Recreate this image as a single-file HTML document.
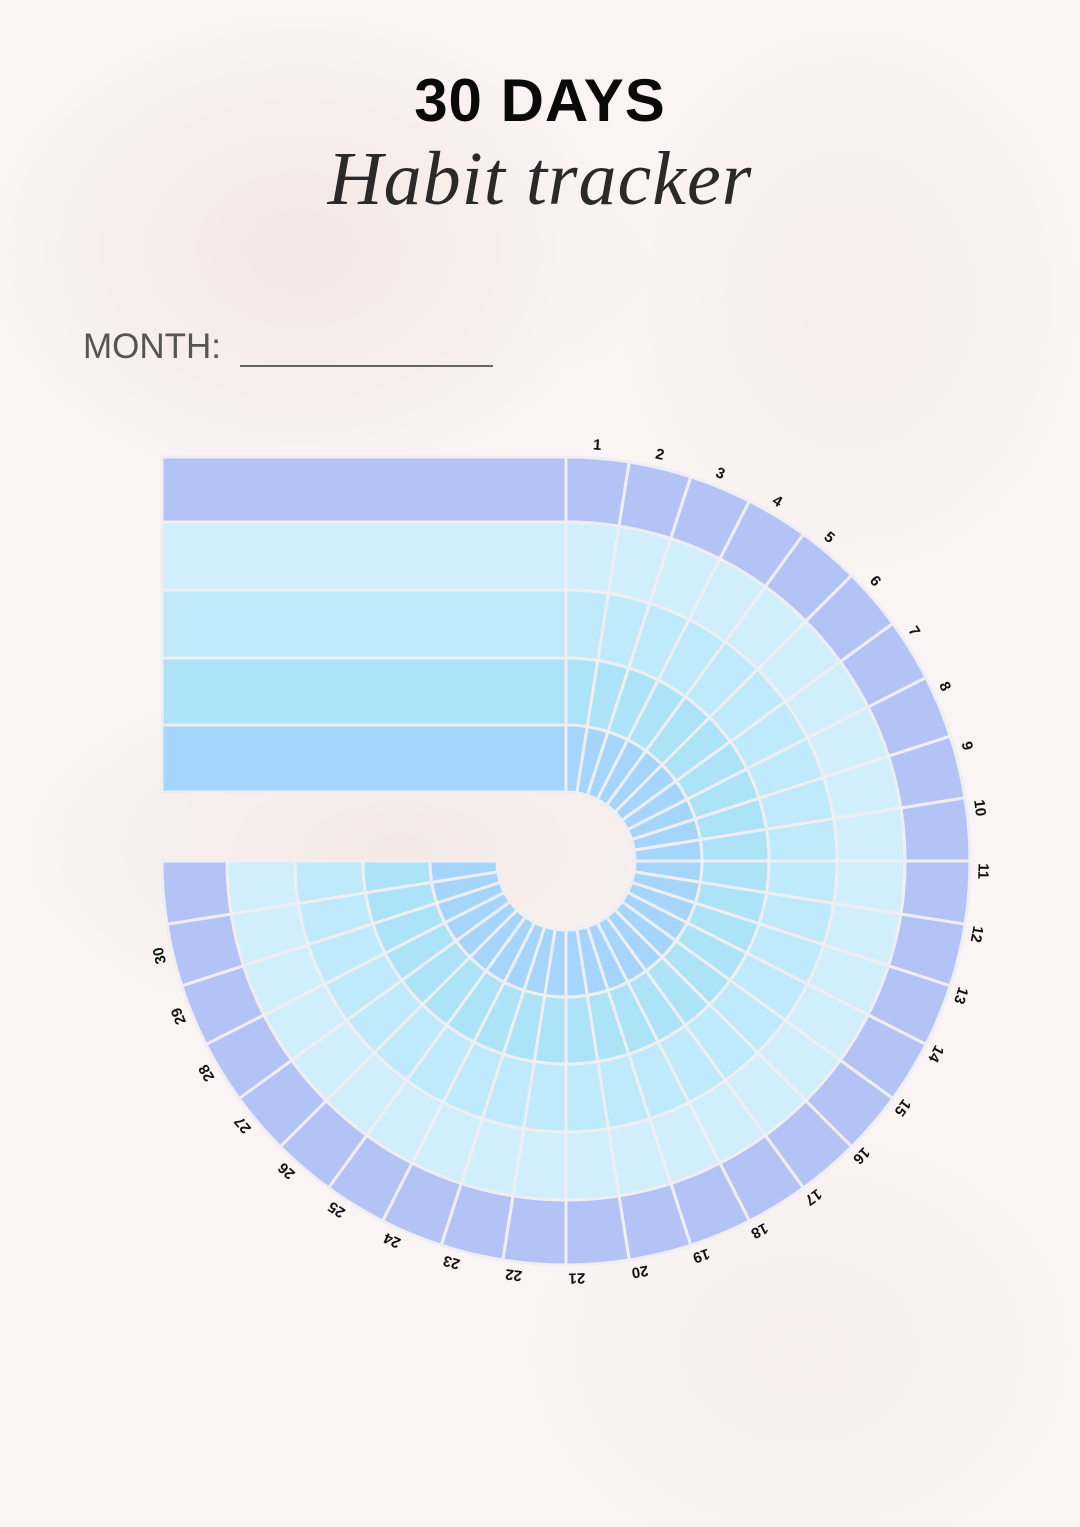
<!DOCTYPE html>
<html><head><meta charset="utf-8">
<style>
html,body{margin:0;padding:0;}
body{width:1080px;height:1527px;overflow:hidden;position:relative;font-family:"Liberation Sans",sans-serif;
background:
radial-gradient(ellipse 500px 380px at 300px 250px,rgba(240,222,218,.6),transparent 70%),
radial-gradient(ellipse 420px 500px at 850px 300px,rgba(244,230,228,.5),transparent 70%),
radial-gradient(ellipse 600px 300px at 400px 850px,rgba(240,224,220,.6),transparent 70%),
radial-gradient(ellipse 500px 400px at 800px 1350px,rgba(244,232,230,.5),transparent 70%),
#faf5f4;}
#title{position:absolute;left:0;width:1080px;top:66px;text-align:center;font-weight:bold;font-size:60px;color:#0a0a0a;letter-spacing:1px;}
#sub{position:absolute;left:0;width:1080px;top:136px;text-align:center;font-family:"Liberation Serif",serif;font-style:italic;font-size:76px;color:#2a2a2a;letter-spacing:1px;}
#month{position:absolute;left:83px;top:327px;font-size:35px;color:#555;}
#line{position:absolute;left:240px;top:365px;width:253px;height:2px;background:#666;}
svg{position:absolute;left:0;top:0;}
</style></head><body>
<div id="title">30 DAYS</div>
<div id="sub">Habit tracker</div>
<div id="month">MONTH:</div>
<div id="line"></div>
<svg id="chart" width="1080" height="1527"></svg>
<script>
const days=[1,2,3,4,5,6,7,8,9,10,11,12,13,14,15,16,17,18,19,20,21,22,23,24,25,26,27,28,29,30];
const habitRows=["header","habit-1","habit-2","habit-3","habit-4"];
const ringColors=["#b4c3f6","#d0eefc","#bfeafb","#ade3f7","#a6d5fc"];
const radii=[404,339,271,203,136,69];
const cx=566,cy=861,leftX=162,spanDeg=270;
const labelStart=4.3,labelStep=8.71;
const NS="http://www.w3.org/2000/svg";
const svg=document.getElementById('chart');
function ang(i){return i*spanDeg/days.length;}
function pt(r,a){const t=a*Math.PI/180;return [cx+r*Math.sin(t),cy-r*Math.cos(t)];}
const stroke="#eeeef3";
habitRows.forEach((h,k)=>{
  const r=document.createElementNS(NS,'rect');
  r.setAttribute('x',leftX);r.setAttribute('y',cy-radii[k]);
  r.setAttribute('width',cx-leftX);r.setAttribute('height',radii[k]-radii[k+1]);
  r.setAttribute('fill',ringColors[k]);r.setAttribute('stroke',stroke);r.setAttribute('stroke-width',3);
  
  
  svg.appendChild(r);
});
days.forEach((d,i)=>{
  const a0=ang(i),a1=ang(i+1);
  habitRows.forEach((h,k)=>{
    const R=radii[k],r=radii[k+1];
    const p1=pt(R,a0),p2=pt(R,a1),p3=pt(r,a1),p4=pt(r,a0);
    const p=document.createElementNS(NS,'path');
    p.setAttribute('d',`M${p1}A${R},${R} 0 0 1 ${p2}L${p3}A${r},${r} 0 0 0 ${p4}Z`);
    p.setAttribute('fill',ringColors[k]);p.setAttribute('stroke',stroke);p.setAttribute('stroke-width',3);
    
    
    svg.appendChild(p);
  });
  const am=labelStart+i*labelStep,lp=pt(417,am);
  const t=document.createElementNS(NS,'text');
  t.setAttribute('x',lp[0]);t.setAttribute('y',lp[1]);
  t.setAttribute('text-anchor','middle');t.setAttribute('dominant-baseline','central');
  t.setAttribute('font-family','Liberation Sans, sans-serif');t.setAttribute('font-weight','bold');
  t.setAttribute('font-size','15');t.setAttribute('fill','#111');
  t.setAttribute('transform',`rotate(${am} ${lp[0]} ${lp[1]})`);
  t.textContent=d;
  
  
  svg.appendChild(t);
});
</script>
</body></html>
